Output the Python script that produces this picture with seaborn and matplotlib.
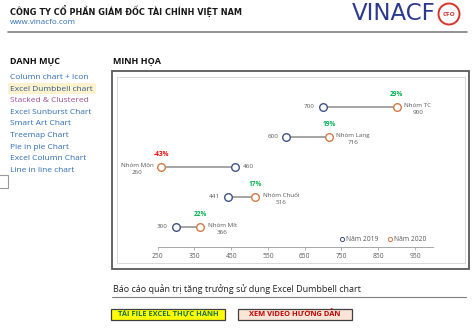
import matplotlib
matplotlib.use("Agg")
import matplotlib.pyplot as plt
from matplotlib.patches import Rectangle, Ellipse
from matplotlib.lines import Line2D
import seaborn as sns
import pandas as pd

# ---- data ----
groups = ["Nhóm Mít", "Nhóm Chuối", "Nhóm Môn", "Nhóm Lang", "Nhóm TC"]
val_2019 = [300, 441, 460, 600, 700]
val_2020 = [366, 516, 260, 716, 900]
years = ["Năm 2019", "Năm 2020"]
x_ticks = [250, 350, 450, 550, 650, 750, 850, 950]

menu_items = ["Column chart + Icon", "Excel Dumbbell chart", "Stacked & Clustered",
              "Excel Sunburst Chart", "Smart Art Chart", "Treemap Chart",
              "Pie in pie Chart", "Excel Column Chart", "Line in line chart"]

company = "CÔNG TY CỔ PHẦN GIÁM ĐỐC TÀI CHÍNH VIỆT NAM"
website = "www.vinacfo.com"
caption = "Báo cáo quản trị tăng trưởng sử dụng Excel Dumbbell chart"
button_1 = "TẢI FILE EXCEL THỰC HÀNH"
button_2 = "XEM VIDEO HƯỚNG DẪN"

sns.set_style("white")
plt.rcParams["font.family"] = ["Open Sans", "DejaVu Sans"]

W, H = 474, 328
fig = plt.figure(figsize=(W / 100, H / 100), dpi=100)
fig.patch.set_facecolor("white")


def fx(x):
    return x / W


def fy(y):
    return 1 - y / H


def frect(x0, y0, x1, y1, **kw):
    fig.add_artist(Rectangle((fx(x0), fy(y1)), fx(x1) - fx(x0), fy(y0) - fy(y1),
                             transform=fig.transFigure, zorder=0, **kw))


# ---- header ----
fig.text(fx(10), fy(11), company, fontsize=5.9, fontweight="bold", color="#1a1a1a",
         family=["DejaVu Sans"], va="center", ha="left")
fig.text(fx(10), fy(23), website, fontsize=5.8, color="#2E6DB4", va="center", ha="left")
fig.add_artist(Line2D([fx(8), fx(467)], [fy(32), fy(32)], transform=fig.transFigure,
                      color="#7F7F7F", lw=1.2))

# logo
fig.text(fx(352), fy(14), "VINACF", fontsize=16.5, color="#2B3A8C",
         family=["DejaVu Sans"], va="center", ha="left")
fig.add_artist(Ellipse((fx(449), fy(14)), 2 * 10.5 / W, 2 * 10.5 / H,
                       transform=fig.transFigure, facecolor="white",
                       edgecolor="#D7342A", lw=1.4, zorder=2))
fig.text(fx(449), fy(15), "CFO", fontsize=4.6, fontweight="bold", color="#D7342A",
         va="center", ha="center", zorder=3)

# ---- left menu ----
fig.text(fx(10), fy(62), "DANH MỤC", fontsize=6.5, fontweight="bold", color="#111111",
         va="center", ha="left")
fig.text(fx(113), fy(62), "MINH HỌA", fontsize=6.5, fontweight="bold", color="#111111",
         va="center", ha="left")
menu_colors = ["#2E6DB4", "#2F5E8C", "#9B4F96"] + ["#2E6DB4"] * 6
frect(8, 83, 96, 94, facecolor="#FFF2CC", edgecolor="none")
for i, (item, c) in enumerate(zip(menu_items, menu_colors)):
    fig.text(fx(10), fy(77.5 + i * 11.6), item, fontsize=6.0, color=c,
             va="center", ha="left")
frect(-5, 175, 8, 188, facecolor="none", edgecolor="#9A9A9A", lw=0.8)

# ---- chart frame ----
frect(112, 71, 469, 269, facecolor="white", edgecolor="#595959", lw=1.3)
frect(117, 77, 465, 263, facecolor="white", edgecolor="#D9D9D9", lw=0.7)

ax = fig.add_axes([fx(117), fy(263), fx(465) - fx(117), fy(77) - fy(263)])
ax.set_facecolor("none")
ax.set_zorder(5)

rows = list(range(1, len(groups) + 1))
df = pd.DataFrame({"group": groups, "row": rows, "v2019": val_2019, "v2020": val_2020})

c2019 = "#3E5486"
c2020 = "#D07A45"

# connecting bars
ax.hlines(df["row"], df[["v2019", "v2020"]].min(axis=1), df[["v2019", "v2020"]].max(axis=1),
          color="#8C8C8C", lw=1.1, zorder=1)

# dumbbell ends
sns.scatterplot(data=df, x="v2019", y="row", ax=ax, s=30, color="white",
                edgecolor=c2019, linewidth=1.0, zorder=3, legend=False)
sns.scatterplot(data=df, x="v2020", y="row", ax=ax, s=30, color="white",
                edgecolor=c2020, linewidth=1.0, zorder=3, legend=False)

lab_fs = 4.5
for g, r, a, b in zip(groups, rows, val_2019, val_2020):
    pct = round((b / a - 1) * 100)
    up = b >= a
    side = 1 if up else -1
    ax.annotate(f"{a}", (a, r), xytext=(-5.8 * side, 0), textcoords="offset points",
                ha="right" if up else "left", va="center", fontsize=lab_fs, color="#595959")
    ax.annotate(f"{g}\n{b}", (b, r), xytext=(5.4 * side, -1.6), textcoords="offset points",
                ha="left" if up else "right", va="center", multialignment="center",
                fontsize=lab_fs, color="#595959", linespacing=1.35)
    ax.annotate(f"{pct}%", (b, r), xytext=(0, 8.6), textcoords="offset points",
                ha="center", va="center", fontsize=4.7, fontweight="bold",
                color="#00B050" if pct >= 0 else "#FF0000")

ax.set_xlim(139.3, 1086)
ax.set_ylim(-0.2, 5.99)
ax.set_xticks(x_ticks)
ax.set_xticklabels([str(t) for t in x_ticks])
ax.set_yticks([])
ax.set_xlabel("")
ax.set_ylabel("")
for s in ["top", "left", "right"]:
    ax.spines[s].set_visible(False)
ax.spines["bottom"].set_position(("data", 0.333))
ax.spines["bottom"].set_bounds(250, 1000)
ax.spines["bottom"].set_color("#A6A6A6")
ax.spines["bottom"].set_linewidth(0.7)
ax.tick_params(axis="x", length=2, width=0.6, color="#A6A6A6", labelsize=4.8,
               labelcolor="#595959", pad=2.5, bottom=True)

handles = [Line2D([], [], marker="o", ls="", mfc="white", mec=c, ms=3.0, mew=0.7)
           for c in (c2019, c2020)]
ax.legend(handles, years, ncol=2, loc="center right", bbox_to_anchor=(0.89, 0.124),
          frameon=False, fontsize=4.9, handletextpad=0.1, columnspacing=1.3,
          borderpad=0, borderaxespad=0, labelcolor="#595959", handlelength=1.0)

# ---- caption & buttons ----
fig.text(fx(113), fy(289), caption, fontsize=6.5, color="#222222", va="center", ha="left")
fig.add_artist(Line2D([fx(112), fx(466)], [fy(296.5), fy(296.5)], transform=fig.transFigure,
                      color="#7F7F7F", lw=0.8))

frect(111, 309, 225, 320, facecolor="#FFFF00", edgecolor="#404040", lw=0.9)
fig.text(fx(168), fy(314.5), button_1, fontsize=5.4, fontweight="bold", color="#1E7145",
         va="center", ha="center")
frect(238, 309, 352, 320, facecolor="#FCE4D6", edgecolor="#404040", lw=0.9)
fig.text(fx(295), fy(314.5), button_2, fontsize=5.4, fontweight="bold", color="#C00000",
         va="center", ha="center")

fig.savefig("out.png", dpi=100)
